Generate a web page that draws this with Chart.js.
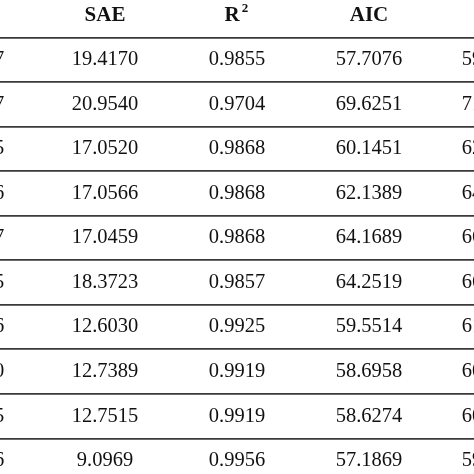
<!DOCTYPE html>
<html>
<head>
<script src="https://cdn.jsdelivr.net/npm/chart.js@4"></script>
<style>
  html, body { margin: 0; padding: 0; background: #fff; overflow: hidden; width: 474px; height: 474px; }
  #wrap { position: absolute; left: -93px; top: -7px; width: 660px; height: 490px; }
</style>
</head>
<body>
<div id="wrap"><canvas id="c"></canvas></div>
<script>
const columns = ['', 'SAE', 'R2', 'AIC', ''];
const rowKeys = ['head', 'r1', 'r2', 'r3', 'r4', 'r5', 'r6', 'r7', 'r8', 'r9', 'r10'];
const leftCol = ['3.1437', '3.2877', '2.8675', '2.8686', '2.8667', '3.0275', '2.2376', '2.2490', '2.2515', '1.8906'];
const sae = ['19.4170', '20.9540', '17.0520', '17.0566', '17.0459', '18.3723', '12.6030', '12.7389', '12.7515', '9.0969'];
const r2 = ['0.9855', '0.9704', '0.9868', '0.9868', '0.9868', '0.9857', '0.9925', '0.9919', '0.9919', '0.9956'];
const aic = ['57.7076', '69.6251', '60.1451', '62.1389', '64.1689', '64.2519', '59.5514', '58.6958', '58.6274', '57.1869'];
const rightCol = ['59.7076', '71.6251', '62.1451', '64.1389', '66.1689', '66.2519', '61.5514', '60.6958', '60.6274', '59.1869'];

const bodyCols = [leftCol, sae, r2, aic, rightCol];
const serif = '"Liberation Serif", "DejaVu Serif", serif';

const tablePlugin = {
  id: 'tableText',
  afterDraw(chart) {
    const { ctx, scales: { x, y } } = chart;
    ctx.save();
    ctx.fillStyle = '#111';
    ctx.textAlign = 'center';
    ctx.textBaseline = 'middle';
    // header
    columns.forEach((name, i) => {
      const px = x.getPixelForValue(i), py = y.getPixelForValue(0);
      if (name === 'R2') {
        ctx.font = 'bold 21px ' + serif;
        ctx.fillText('R', px - 5, py);
        ctx.font = 'bold 13px ' + serif;
        ctx.fillText('2', px + 8, py - 7);
      } else if (name) {
        ctx.font = 'bold 21px ' + serif;
        ctx.fillText(name, px, py);
      }
    });
    // body
    ctx.font = '20.5px ' + serif;
    bodyCols.forEach((col, i) => {
      col.forEach((v, j) => {
        ctx.fillText(v, x.getPixelForValue(i) + (i === 0 ? 3 : i === 4 ? -6 : 0), y.getPixelForValue(j + 1));
      });
    });
    ctx.restore();
  }
};

new Chart(document.getElementById('c'), {
  type: 'bar',
  data: {
    labels: columns,
    datasets: [{ data: columns.map(() => null) }]
  },
  options: {
    responsive: true,
    maintainAspectRatio: false,
    animation: false,
    layout: { padding: 0 },
    plugins: { legend: { display: false }, tooltip: { enabled: false } },
    scales: {
      x: { type: 'category', offset: true, display: false },
      y: {
        type: 'category',
        labels: rowKeys,
        offset: true,
        ticks: { display: false },
        border: { display: false },
        grid: { offset: true, color: '#3a3a3a', lineWidth: 1.8, drawTicks: false }
      }
    }
  },
  plugins: [tablePlugin]
});
</script>
</body>
</html>
